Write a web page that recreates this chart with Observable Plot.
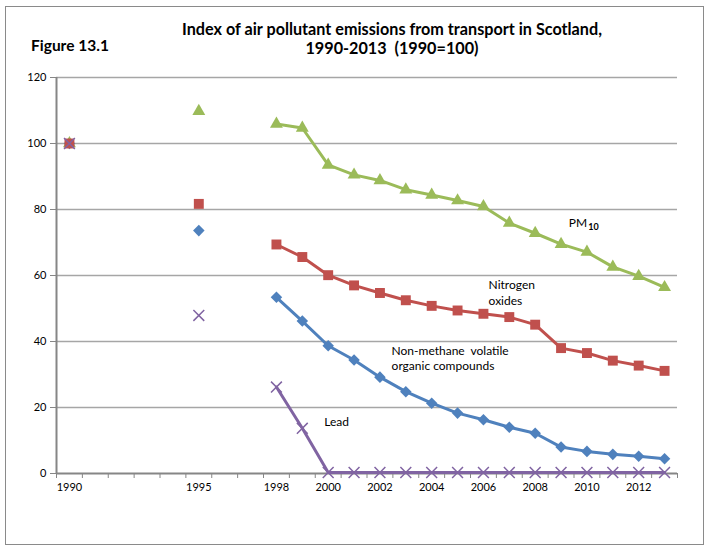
<!DOCTYPE html>
<html><head><meta charset="utf-8">
<script src="https://cdn.jsdelivr.net/npm/d3@7"></script>
<script src="https://cdn.jsdelivr.net/npm/@observablehq/plot@0.6"></script>
<style>
body{margin:0;background:#fff;font-family:Lato,"Open Sans",sans-serif}
#wrap{position:relative;width:710px;height:551px;overflow:hidden}
#chart{position:absolute;left:0;top:0}
#frame{position:absolute;left:5px;top:6px;width:699px;height:539px;border:1px solid #8a8a8a;box-sizing:border-box;pointer-events:none}
.t{position:absolute;font-weight:bold;color:#000;white-space:pre;font-size:16.2px;line-height:19px}
</style>
</head><body>
<div id="wrap">
  <div id="chart"></div>
  <div id="frame"></div>
  <div class="t" style="left:31px;top:36px;font-size:15.5px">Figure 13.1</div>
  <div class="t" style="left:0;width:784px;top:19px;text-align:center">Index of air pollutant emissions from transport in Scotland,
1990-2013  (1990=100)</div>
</div>
<script>
const years = [1990, 1995, 1998, 1999, 2000, 2001, 2002, 2003, 2004, 2005, 2006, 2007, 2008, 2009, 2010, 2011, 2012, 2013];
const pm10  = [100, 109.8, 105.9, 104.7, 93.5, 90.5, 88.8, 86.0, 84.4, 82.7, 80.9, 75.9, 72.8, 69.5, 67.1, 62.6, 59.8, 56.4];
const nox   = [100, 81.7, 69.4, 65.6, 60.1, 57.0, 54.7, 52.5, 50.8, 49.4, 48.4, 47.4, 45.1, 38.0, 36.5, 34.2, 32.7, 31.1];
const nmvoc = [100, 73.6, 53.4, 46.2, 38.7, 34.4, 29.2, 24.8, 21.3, 18.3, 16.3, 14.0, 12.2, 8.0, 6.7, 5.8, 5.2, 4.5];
const lead  = [100, 47.9, 26.2, 13.7, 0.3, 0.3, 0.3, 0.3, 0.3, 0.3, 0.3, 0.3, 0.3, 0.3, 0.3, 0.3, 0.3, 0.3];
const xTickLabels = [1990, 1995, 1998, 2000, 2002, 2004, 2006, 2008, 2010, 2012];
const yTicks = [0, 20, 40, 60, 80, 100, 120];

const seriesDefs = [
  {name: "nmvoc", values: nmvoc, color: "#4F81BD", symbol: "diamond2", r: 5.2},
  {name: "pm10",  values: pm10,  color: "#9BBB59", symbol: "triangle", r: 4.8},
  {name: "nox",   values: nox,   color: "#C0504D", symbol: "square", r: 5.6},
  {name: "lead",  values: lead,  color: "#8064A2", symbol: "times", r: 5}
];
const rows = seriesDefs.flatMap(s => years.map((yr, i) => ({series: s.name, year: yr, value: s.values[i]})));

const annotations = [
  {text: "PM", x: 2009.3, y: 75.8, size: 12},
  {text: "10", x: 2010.05, y: 74.6, size: 9},
  {text: "Nitrogen", x: 2006.2, y: 57.0, size: 12},
  {text: "oxides", x: 2006.2, y: 52.1, size: 12},
  {text: "Non-methane  volatile", x: 2002.45, y: 37.1, size: 12},
  {text: "organic compounds", x: 2002.45, y: 32.4, size: 12},
  {text: "Lead", x: 1999.85, y: 15.5, size: 12}
];

const boundaries = d3.range(1989.5, 2014, 1);
const marks = [
  Plot.gridY(yTicks.filter(d => d > 0), {stroke: "#a6a6a6", strokeOpacity: 1, strokeWidth: 1.5}),
  Plot.axisY({ticks: yTicks, tickSize: 6, tickPadding: 4, stroke: "#868686", fontSize: 11, label: null, tickFormat: d => d}),
  Plot.axisX({ticks: boundaries, tickSize: 5, tickFormat: () => "", stroke: "#868686", label: null}),
  Plot.axisX({ticks: xTickLabels, tickSize: 0, tickPadding: 10, fontSize: 11, label: null, tickFormat: d => String(d)}),
  Plot.ruleX([1989.5], {y1: 0, y2: 120, stroke: "#868686", strokeWidth: 2}),
  Plot.ruleY([0], {stroke: "#868686", strokeWidth: 2})
];
for (const s of seriesDefs) {
  const d = rows.filter(r => r.series === s.name);
  marks.push(Plot.line(d.filter(r => r.year >= 1998), {x: "year", y: "value", stroke: s.color, strokeWidth: 3}));
  if (s.symbol === "times") {
    marks.push(Plot.dot(d, {x: "year", y: "value", symbol: "times", r: s.r, stroke: s.color, strokeWidth: 1.5}));
  } else {
    marks.push(Plot.dot(d, {x: "year", y: "value", symbol: s.symbol, r: s.r, fill: s.color, stroke: "none"}));
  }
}
for (const a of annotations) {
  marks.push(Plot.text([a], {x: "x", y: "y", text: "text", textAnchor: "start", fontSize: a.size, fontWeight: a.size < 10 ? "bold" : "normal", fill: "#000"}));
}

const chart = Plot.plot({
  width: 710, height: 551,
  marginLeft: 56, marginRight: 33, marginTop: 77, marginBottom: 78,
  style: {fontFamily: "Lato, sans-serif", color: "#000", background: "white"},
  x: {domain: [1989.5, 2013.5], axis: null},
  y: {domain: [0, 120], axis: null},
  marks
});
document.getElementById("chart").appendChild(chart);
</script>
</body></html>
